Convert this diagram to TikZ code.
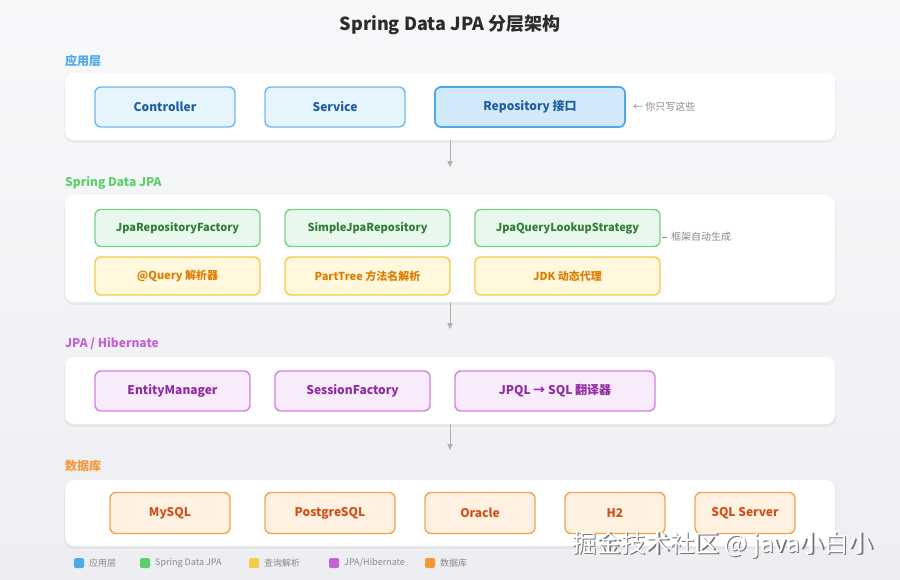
\documentclass[tikz,border=0pt]{standalone}
\usepackage{fontspec}
\setmainfont{Noto Sans CJK SC}
\usetikzlibrary{arrows.meta}
\definecolor{bgtop}{HTML}{F7F8FA}
\definecolor{bgbot}{HTML}{ECEEF1}
\definecolor{titlec}{HTML}{2B2B2B}
\definecolor{blueL}{HTML}{4DA8EC}
\definecolor{blueF}{HTML}{E6F4FE}
\definecolor{blueFd}{HTML}{D2E9FC}
\definecolor{blueB}{HTML}{72B8EE}
\definecolor{blueT}{HTML}{1F5E9E}
\definecolor{greenL}{HTML}{5DCE6E}
\definecolor{greenF}{HTML}{E9F8EC}
\definecolor{greenB}{HTML}{77D486}
\definecolor{greenT}{HTML}{2F7D36}
\definecolor{yelF}{HTML}{FFF8DC}
\definecolor{yelB}{HTML}{F5CB4A}
\definecolor{yelT}{HTML}{E07C00}
\definecolor{purL}{HTML}{C65FD8}
\definecolor{purF}{HTML}{F8EBFB}
\definecolor{purB}{HTML}{D084E0}
\definecolor{purT}{HTML}{8E2CA0}
\definecolor{oraL}{HTML}{F5983A}
\definecolor{oraF}{HTML}{FFF1E2}
\definecolor{oraB}{HTML}{F5A450}
\definecolor{oraT}{HTML}{D0521A}
\definecolor{noteC}{HTML}{8A8A8A}
\definecolor{arrC}{HTML}{B0B0B0}
\begin{document}
\begin{tikzpicture}[x=1pt,y=-1pt,
  panel/.style={fill=white,rounded corners=9pt},
  shadowbox/.style={fill=black,opacity=0.045,rounded corners=10pt},
  boxbase/.style={rounded corners=6pt,line width=1.4pt,font=\bfseries\fontsize{12}{14}\selectfont,inner sep=0pt,yshift=0pt},
  bluebox/.style={boxbase,fill=blueF,draw=blueB,text=blueT},
  greenbox/.style={boxbase,fill=greenF,draw=greenB,text=greenT,font=\bfseries\fontsize{11}{13}\selectfont},
  yelbox/.style={boxbase,fill=yelF,draw=yelB,text=yelT,font=\bfseries\fontsize{11}{13}\selectfont},
  purbox/.style={boxbase,fill=purF,draw=purB,text=purT},
  orabox/.style={boxbase,fill=oraF,draw=oraB,text=oraT},
  seclabel/.style={anchor=west,font=\bfseries\fontsize{12}{14}\selectfont,inner sep=0pt},
  note/.style={anchor=west,text=noteC,font=\fontsize{10}{12}\selectfont,inner sep=0pt},
  flow/.style={draw=arrC,line width=1pt,-{Triangle[length=6pt,width=5pt]}},
  legtxt/.style={anchor=west,text=noteC,font=\fontsize{9}{11}\selectfont,inner sep=0pt},
  legsq/.style={rounded corners=1.5pt}
]
% background
\shade[top color=bgtop,bottom color=bgbot] (0,0) rectangle (900,580);
\useasboundingbox (0,0) rectangle (900,580);

% title
\node[font=\bfseries\fontsize{18}{21}\selectfont,text=titlec] (title) at (450,25) {Spring Data JPA 分层架构};

% ---------- layer 1
\node[seclabel,text=blueL] (l1) at (65,61) {应用层};
\fill[shadowbox] (64,74) rectangle (836,143);
\node[panel,minimum width=770pt,minimum height=67pt,inner sep=0pt] (p1) at (450,106.5) {};
\node[bluebox,minimum width=140pt,minimum height=40pt] (ctrl) at (165,107) {Controller};
\node[bluebox,minimum width=140pt,minimum height=40pt] (svc) at (335,107) {Service};
\node[bluebox,fill=blueFd,draw=blueL,line width=1.8pt,minimum width=190pt,minimum height=40pt] (repo) at (530,107) {Repository 接口};
\node[note] (n1) at (633,107) {← 你只写这些};

% ---------- layer 2
\node[seclabel,text=greenL] (l2) at (65,183) {Spring Data JPA};
\fill[shadowbox] (64,196) rectangle (836,305);
\node[panel,minimum width=770pt,minimum height=107pt,inner sep=0pt] (p2) at (450,248.5) {};
\node[greenbox,minimum width=165pt,minimum height=37pt] (fac) at (177.5,228) {JpaRepositoryFactory};
\node[greenbox,minimum width=165pt,minimum height=37pt] (sjr) at (367.5,228) {SimpleJpaRepository};
\node[greenbox,minimum width=185pt,minimum height=37pt] (qls) at (567.5,228) {JpaQueryLookupStrategy};
\node[yelbox,minimum width=165pt,minimum height=38pt] (qp) at (177.5,276) {@Query 解析器};
\node[yelbox,minimum width=165pt,minimum height=38pt] (pt) at (367.5,276) {PartTree 方法名解析};
\node[yelbox,minimum width=185pt,minimum height=38pt] (jdk) at (567.5,276) {JDK 动态代理};
\coordinate (n2s) at (662,237);
\coordinate (n2e) at (667,237);
\draw[noteC,line width=0.7pt] (n2s) -- (n2e);
\node[note] (n2) at (671,237) {框架自动生成};

% ---------- layer 3
\node[seclabel,text=purL] (l3) at (65,344) {JPA / Hibernate};
\fill[shadowbox] (64,358) rectangle (836,427);
\node[panel,minimum width=770pt,minimum height=67pt,inner sep=0pt] (p3) at (450,390.5) {};
\node[purbox,minimum width=155pt,minimum height=40pt] (em) at (172.5,391) {EntityManager};
\node[purbox,minimum width=155pt,minimum height=40pt] (sf) at (352.5,391) {SessionFactory};
\node[purbox,minimum width=200pt,minimum height=40pt] (jpql) at (555,391) {JPQL → SQL 翻译器};

% ---------- layer 4
\node[seclabel,text=oraL] (l4) at (65,466) {数据库};
\fill[shadowbox] (64,481) rectangle (836,549);
\node[panel,minimum width=770pt,minimum height=66pt,inner sep=0pt] (p4) at (450,513) {};
\node[orabox,minimum width=120pt,minimum height=41pt] (mysql) at (170,513) {MySQL};
\node[orabox,minimum width=130pt,minimum height=41pt] (pg) at (330,513) {PostgreSQL};
\node[orabox,minimum width=110pt,minimum height=41pt] (ora) at (480,513) {Oracle};
\node[orabox,minimum width=100pt,minimum height=41pt] (h2) at (615,513) {H2};
\node[orabox,minimum width=100pt,minimum height=41pt] (sqls) at (745,513) {SQL Server};

% flow arrows
\draw[flow] (p1.south) -- ++(0,27);
\draw[flow] (p2.south) -- ++(0,27);
\draw[flow] (p3.south) -- ++(0,26);

% legend
\fill[legsq,blueL] (74,558) rectangle (84,568);
\node[legtxt] (lg1) at (89,563) {应用层};
\fill[legsq,greenL] (140,558) rectangle (150,568);
\node[legtxt] (lg2) at (155,563) {Spring Data JPA};
\fill[legsq,yelB] (249,558) rectangle (259,568);
\node[legtxt] (lg3) at (264,563) {查询解析};
\fill[legsq,purL] (329,558) rectangle (339,568);
\node[legtxt] (lg4) at (344,563) {JPA/Hibernate};
\fill[legsq,oraL] (425,558) rectangle (435,568);
\node[legtxt] (lg5) at (440,563) {数据库};

% watermark
\node[anchor=west,inner sep=0pt,text=black!55,font=\fontsize{24.5}{28}\selectfont] (wm0) at (573.3,546.3) {掘金技术社区 @ java小白小};
\node[anchor=west,inner sep=0pt,text=white,font=\fontsize{24.5}{28}\selectfont] (wm) at (572,545) {掘金技术社区 @ java小白小};
\end{tikzpicture}
\end{document}
